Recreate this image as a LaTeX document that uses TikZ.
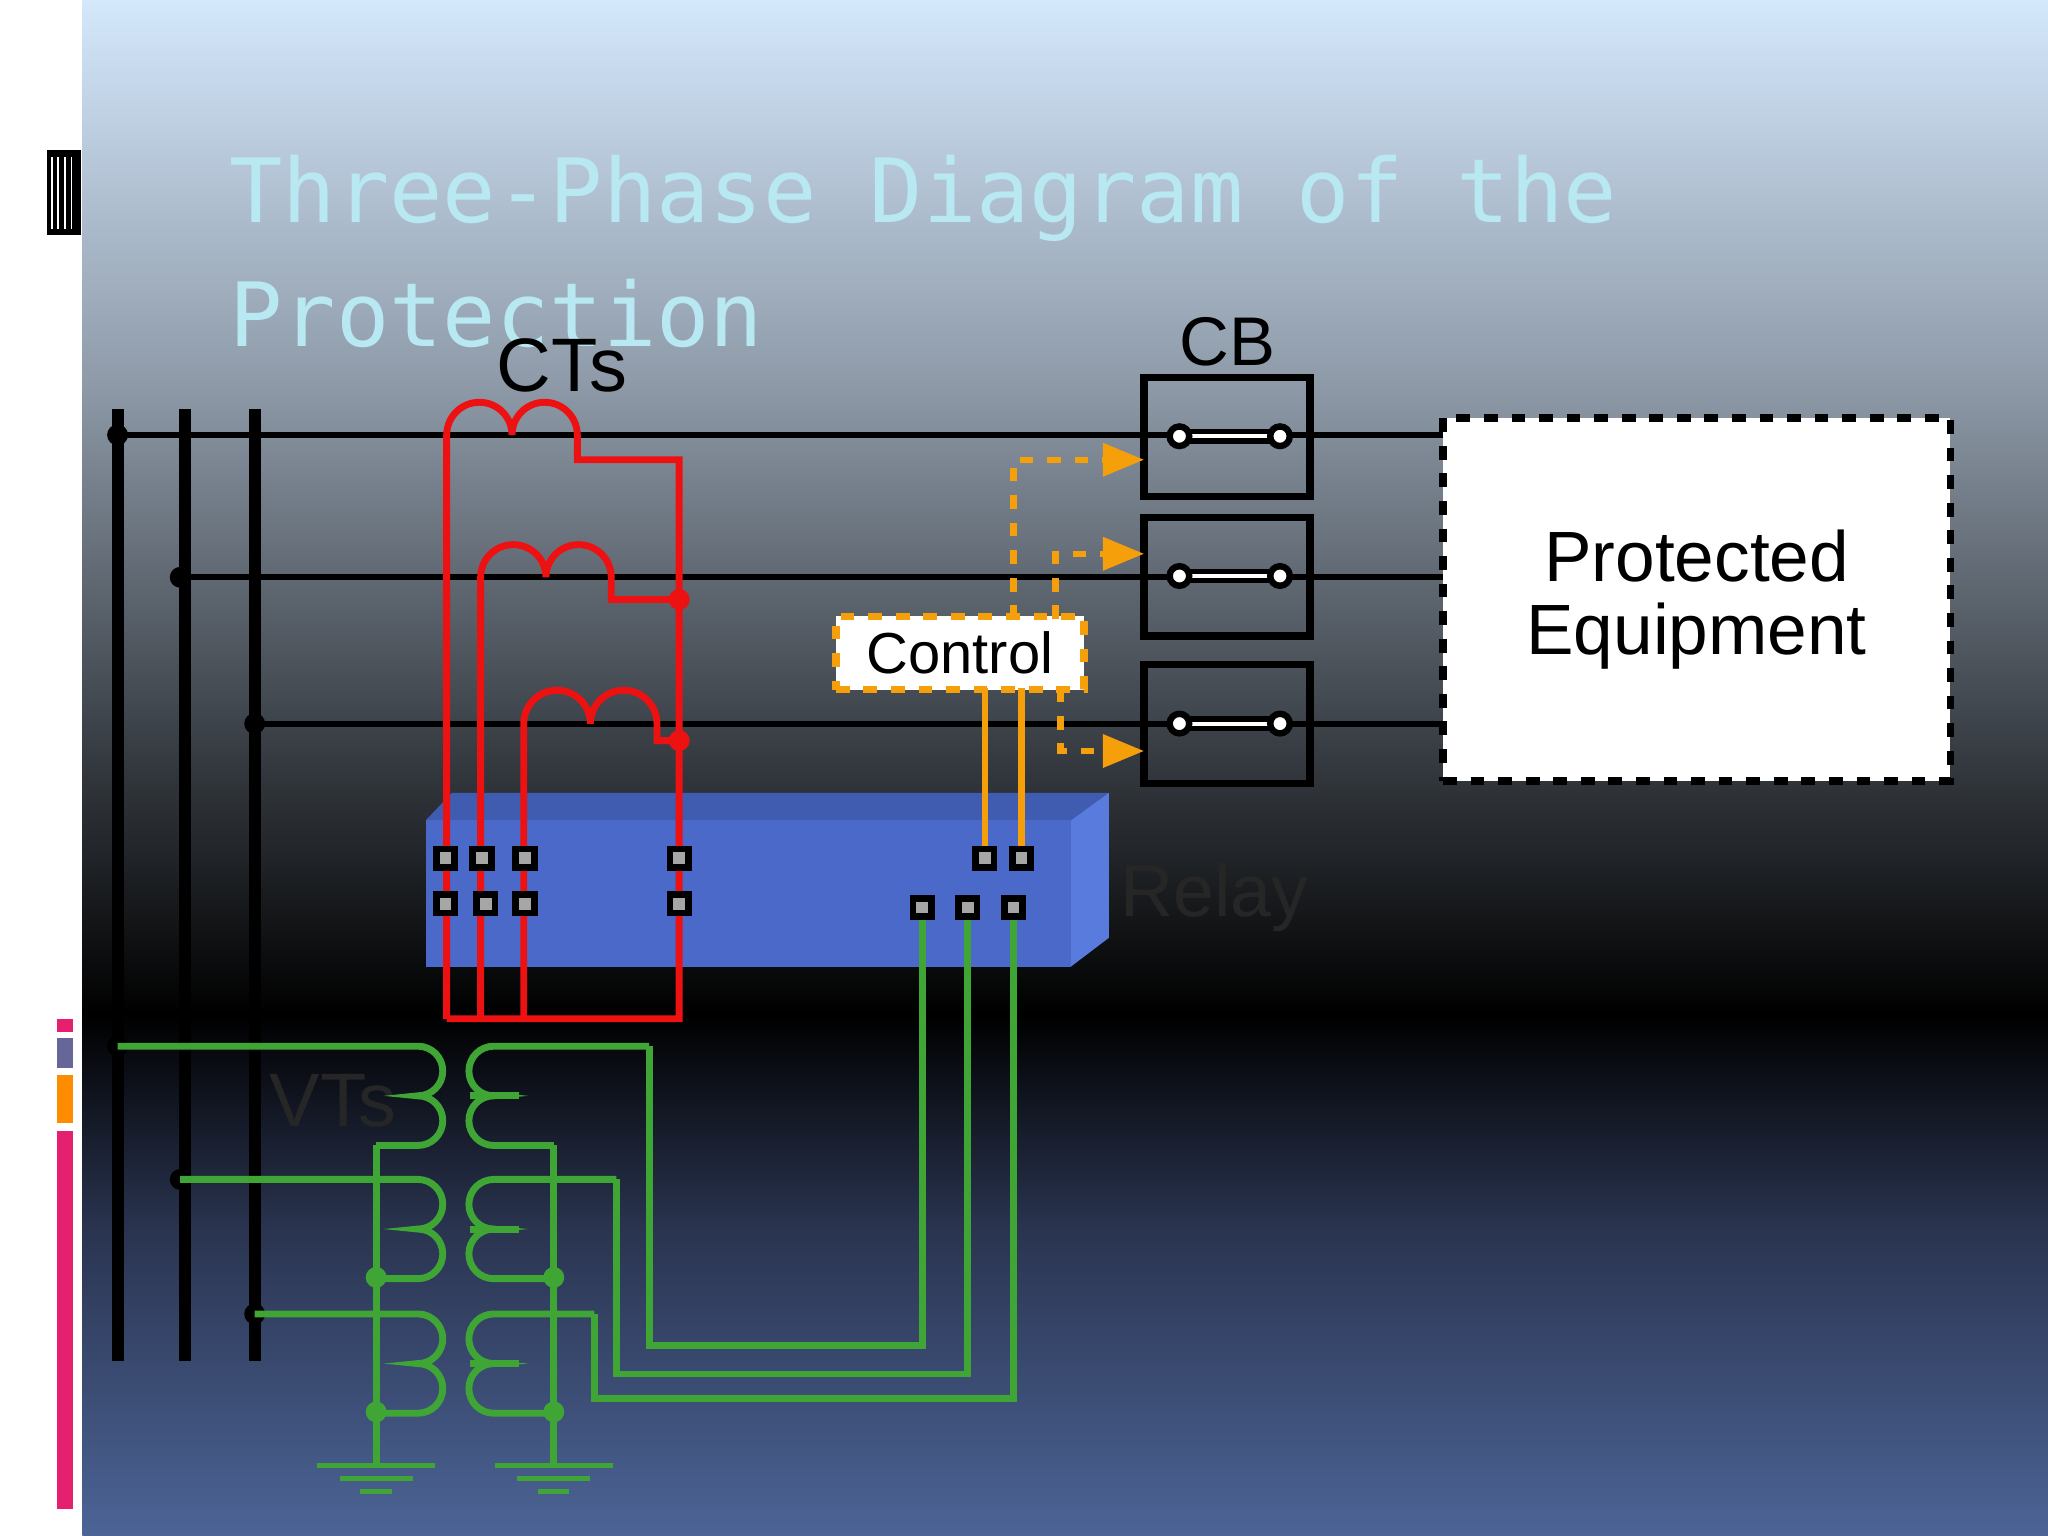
\documentclass[tikz,border=0pt]{standalone}
\usepackage{fontspec}
\setmainfont{Liberation Sans}
\newfontfamily\titlefont{DejaVu Sans Mono}
\usetikzlibrary{arrows.meta}
\definecolor{ttl}{HTML}{B8E8F2}
\definecolor{ctred}{HTML}{EE1111}
\definecolor{vtg}{HTML}{3FA535}
\definecolor{ora}{HTML}{F5A00A}
\definecolor{relf}{HTML}{4A69C8}
\definecolor{relt}{HTML}{3F5CB0}
\definecolor{rels}{HTML}{5A7BDE}
\definecolor{bga}{HTML}{4C6496}
\definecolor{bgb}{HTML}{2A3450}
\definecolor{bgc}{HTML}{33383E}
\definecolor{bgd}{HTML}{8E9AA8}
\definecolor{bge}{HTML}{D4E8FC}
\definecolor{pnk}{HTML}{E5206F}
\pgfdeclareverticalshading{bg}{100bp}{color(0bp)=(bga);color(25bp)=(bga);color(35bp)=(bgb);color(42bp)=(black);color(50bp)=(bgc);color(62.5bp)=(bgd);color(75bp)=(bge);color(100bp)=(bge)}
\tikzset{
 bus/.style={line width=2.6pt},
 ph/.style={line width=1.3pt},
 cbbox/.style={draw,line width=1.6pt},
 ct/.style={ctred,line width=1.5pt},
 vt/.style={vtg,line width=1.5pt},
 term/.style={draw=black,fill=gray!70,line width=1.5pt,minimum size=0.14cm,inner sep=0pt},
 oa/.style={ora,dashed,line width=1.4pt,-{Triangle[length=9pt,width=7pt]}},
}
\begin{document}
\begin{tikzpicture}[x=0.01cm,y=-0.01cm]
\useasboundingbox (0,0) rectangle (1568,1176);
\fill[white] (0,0) rectangle (63,1176);
\shade[shading=bg] (63,0) rectangle (1568,1176);
% left deco
\fill[black] (36,115) rectangle (62,180);
\foreach \x in {39,44,49,54}{\fill[white] (\x,120) rectangle (\x+1.5,175);}
\fill[pnk] (44,780) rectangle (56,790);
\fill[gray!80!blue] (44,795) rectangle (56,818);
\fill[orange!90!yellow] (44,823) rectangle (56,860);
\fill[pnk] (44,866) rectangle (56,1155);
% title
\node[anchor=base west,text=ttl,inner sep=0,font=\titlefont\fontsize{19.3}{23}\selectfont] (t1) at (175,170) {Three-Phase Diagram of the};
\node[anchor=base west,text=ttl,inner sep=0,font=\titlefont\fontsize{19.3}{23}\selectfont] (t2) at (175,265) {Protection};
% buses
\draw[bus] (90,313) -- (90,1042);
\draw[bus] (142,313) -- (142,1042);
\draw[bus] (195,313) -- (195,1042);
\draw[ph] (90,333) -- (1105,333);
\draw[ph] (138,442) -- (1105,442);
\draw[ph] (195,554) -- (1105,554);
\foreach \p in {(90,333),(138,442),(195,554),(90,801),(138,903),(195,1006)}{\fill \p circle (8);}
% CB
\foreach \y/\n in {289/cba,396/cbb,509/cbc}{
 \draw[cbbox,fill=none] (876,\y) rectangle (1003,\y+91);
 \draw[line width=3.2pt] (903,\y+45) -- (980,\y+45);
 \draw[white,line width=0.9pt] (903,\y+45) -- (980,\y+45);
 \draw[line width=1.4pt,fill=white] (903,\y+45) circle (7.5);
 \draw[line width=1.4pt,fill=white] (980,\y+45) circle (7.5);
 \coordinate (\n) at (876,\y+45);
}
\node[font=\fontsize{15}{17}\selectfont] (cbl) at (940,262) {CB};
% protected equipment
\node[draw,dashed,line width=1.6pt,fill=white,minimum width=3.88cm,minimum height=2.78cm,align=center,font=\fontsize{15.5}{16}\selectfont] (pe) at (1299,459) {Protected\\Equipment};
% relay
\fill[relt] (326,628) -- (346,607) -- (849,607) -- (820,628) -- cycle;
\fill[rels] (820,628) -- (849,607) -- (849,718) -- (820,740) -- cycle;
\fill[relf] (326,628) rectangle (820,740);
\node[font=\fontsize{16}{18}\selectfont,text=black!85] (rl) at (930,687) {Relay};
% CTs
\node[font=\fontsize{16.5}{18}\selectfont] (ctl) at (430,280) {CTs};
\draw[ct] (342,780) -- (342,333) arc (180:360:25) arc (180:360:25) -- (442,352) -- (520,352) -- (520,780) -- (342,780);
\draw[ct] (368,780) -- (368,442) arc (180:360:25) arc (180:360:25) -- (468,459) -- (520,459);
\draw[ct] (401,780) -- (401,554) arc (180:360:25.5) arc (180:360:25.5) -- (503,567) -- (520,567);
\fill[ctred] (520,459) circle (8) (520,567) circle (8);
% terminals
\foreach \x/\y/\n in {341/657/r1,369/657/r2,402/657/r3,520/657/r4,754/657/r5,782/657/r6,341/692/s1,372/692/s2,402/692/s3,520/692/s4,706/695/v1,741/695/v2,776/695/v3}{\node[term] (\n) at (\x,\y) {};}
% control
\node[draw=ora,dashed,line width=1.6pt,fill=white,minimum width=1.9cm,minimum height=0.53cm,font=\fontsize{12.6}{14}\selectfont] (ctrl) at (735,500) {Control};
\draw[ora,line width=1.4pt] (754,527) -- (r5.north);
\draw[ora,line width=1.4pt] (782,527) -- (r6.north);
\draw[oa] (776,474) -- (776,352) -- (876,352);
\draw[oa] (808,474) -- (808,424) -- (876,424);
\draw[oa] (812,527) -- (812,575) -- (876,575);
% VTs
\node[font=\fontsize{16.5}{18}\selectfont,text=black!85] (vtl) at (255,843) {VTs};
\foreach \yt/\xb/\tr/\yb/\nn in {801/90/497/1030/v1,903/138/472/1052/v2,1006/195/455/1071/v3}{
 \draw[vt] (\xb,\yt) -- (320,\yt) arc (-90:90:19) arc (-90:90:19) -- (288,\yt+76);
 \draw[vt] (\tr,\yt) -- (378,\yt) arc (270:90:19) arc (270:90:19) -- (424,\yt+76);
 \draw[vt] (397,\yt+38) -- (360,\yt+38);
 \draw[vt] (\tr,\yt) -- (\tr,\yb) -|  (\nn.south);
}
\draw[vt] (288,877) -- (288,1122);
\draw[vt] (424,877) -- (424,1122);
\fill[vtg] (288,978) circle (8) (424,978) circle (8) (288,1081) circle (8) (424,1081) circle (8);
\foreach \x in {288,424}{
 \draw[vt,line width=1.2pt] (\x-45,1122) -- (\x+45,1122);
 \draw[vt,line width=1.2pt] (\x-28,1132) -- (\x+28,1132);
 \draw[vt,line width=1.2pt] (\x-12,1142) -- (\x+12,1142);
}
\end{tikzpicture}
\end{document}
